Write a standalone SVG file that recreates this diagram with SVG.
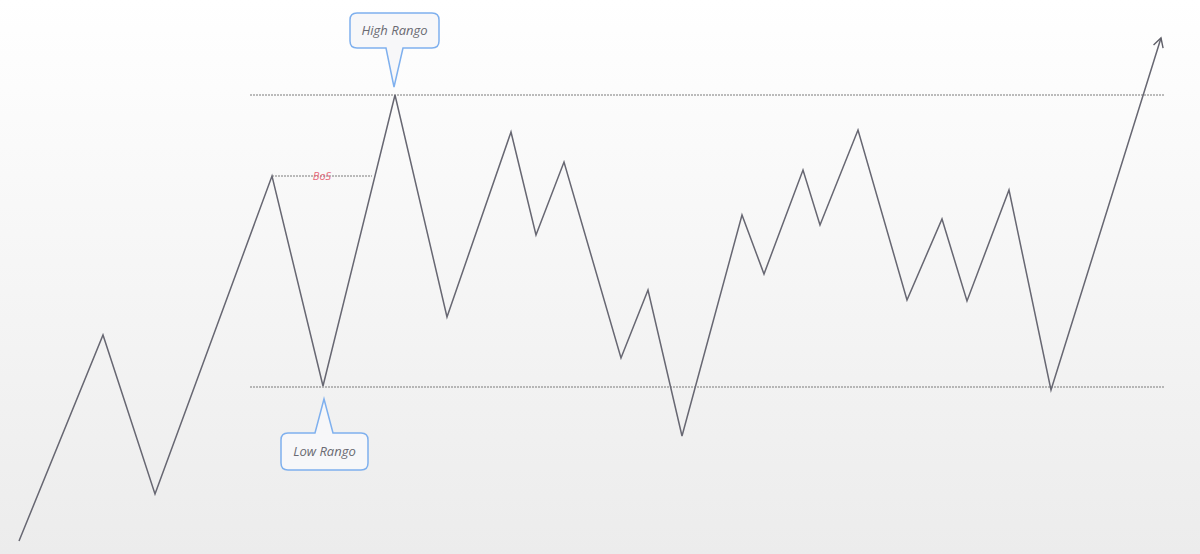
<svg xmlns="http://www.w3.org/2000/svg" width="1200" height="554" viewBox="0 0 1200 554">
<defs>
<linearGradient id="bg" x1="0" y1="0" x2="0" y2="1">
<stop offset="0" stop-color="#ffffff"/>
<stop offset="1" stop-color="#ececec"/>
</linearGradient>
<marker id="arr" viewBox="0 0 12 12" refX="10" refY="6" markerWidth="12" markerHeight="12" markerUnits="userSpaceOnUse" orient="auto">
<path d="M1,1 L10,6 L1,11" fill="none" stroke="#5f5f68" stroke-width="1.4"/>
</marker>
<style>
.lvl{stroke:#7a7a7a;stroke-width:1;stroke-dasharray:2 1;fill:none}
.price{fill:none;stroke:#676772;stroke-width:1.5;stroke-linejoin:miter}
.call{fill:#f7f7f9;stroke:#7fb0ee;stroke-width:1.5}
.lbl{font-family:"Open Sans","DejaVu Sans",sans-serif;font-style:italic;font-size:13px;fill:#6a6a72}
.bos{font-family:"Open Sans","DejaVu Sans",sans-serif;font-style:italic;font-size:11px;fill:#e86a7a}
</style>
</defs>
<rect width="1200" height="554" fill="url(#bg)"/>
<g id="levels">
<line class="lvl" x1="250" y1="95" x2="1164" y2="95"/>
<line class="lvl" x1="250" y1="387" x2="1164" y2="387"/>
<line class="lvl" x1="272" y1="176" x2="372" y2="176"/>
</g>
<g id="connectors">
<polyline class="price" marker-end="url(#arr)" points="19,541 103,335 155,494 272,176 323,386 395,95 447,317 511,132 536,235 564,162 621,358 648,290 682,436 742,215 764,274 803,170 820,225 858,130 907,300 942,219 967,301 1009,190 1051,390 1161,38"/>
</g>
<g id="bos">
<text class="bos" x="322" y="180" text-anchor="middle">BoS</text>
</g>
<g id="high-rango">
<path class="call" d="M357,13 H432 Q439,13 439,20 V41 Q439,48 432,48 H403 L394,87 L386,48 H357 Q350,48 350,41 V20 Q350,13 357,13 Z"/>
<text class="lbl" x="394.5" y="35" text-anchor="middle">High Rango</text>
</g>
<g id="low-rango">
<path class="call" d="M288,433 H315 L324,399 L333,433 H361 Q368,433 368,440 V463 Q368,470 361,470 H288 Q281,470 281,463 V440 Q281,433 288,433 Z"/>
<text class="lbl" x="324.5" y="456" text-anchor="middle">Low Rango</text>
</g>
</svg>
